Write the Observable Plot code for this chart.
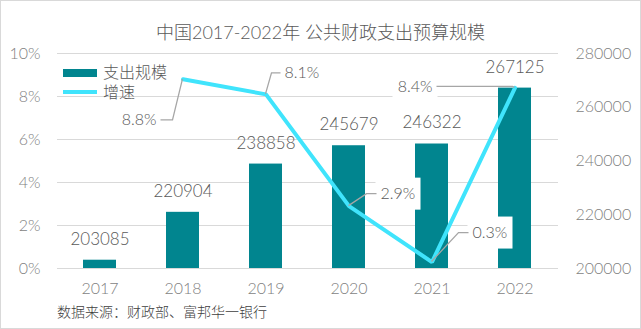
<!DOCTYPE html>
<html><head><meta charset="utf-8">
<script src="https://cdn.jsdelivr.net/npm/d3@7"></script>
<script src="https://cdn.jsdelivr.net/npm/@observablehq/plot@0.6"></script>
<style>
html,body{margin:0;padding:0;background:#fff;}
#wrap{position:relative;width:641px;height:329px;overflow:hidden;font-family:Lato,"Noto Sans CJK SC",sans-serif;font-weight:300;background:#fff;}
#border{position:absolute;left:0;top:0;width:641px;height:329px;box-sizing:border-box;border:1.5px solid #d9d9d9;pointer-events:none;}
#title{position:absolute;left:0;width:641px;top:20px;text-align:center;font-size:18px;color:#595959;line-height:24px;}
#caption{position:absolute;left:57px;top:302px;font-size:14px;color:#404040;line-height:20px;}
#chart{position:absolute;left:0;top:0;}
.leg{position:absolute;font-size:16px;color:#595959;line-height:20px;}
.sw{position:absolute;}
</style>
</head><body>
<div id="wrap">
  <div id="chart"></div>
  <div id="title">中国2017-2022年 公共财政支出预算规模</div>
  <div class="sw" style="left:63px;top:69px;width:34px;height:8px;background:#01858f"></div>
  <div class="leg" style="left:103px;top:62px;">支出规模</div>
  <div class="sw" style="left:63px;top:90px;width:34px;height:4px;background:#40e4fc"></div>
  <div class="leg" style="left:103px;top:82px;">增速</div>
  <div id="caption">数据来源：财政部、富邦华一银行</div>
  <div id="border"></div>
</div>
<script>
// ---- data ----
const years = ["2017", "2018", "2019", "2020", "2021", "2022"];
const spending = [203085, 220904, 238858, 245679, 246322, 267125];
const growth = [null, 8.8, 8.1, 2.9, 0.3, 8.4];
const growthLabels = ["", "8.8%", "8.1%", "2.9%", "0.3%", "8.4%"];
const leftTicks = [0, 2, 4, 6, 8, 10];
const rightTicks = [200000, 220000, 240000, 260000, 280000];
const leftDomain = [0, 10];
const rightDomain = [200000, 280000];

const teal = "#01858f";
const cyan = "#40e4fc";
const textGray = "#595959";
const tickGray = "#7f7f7f";
const fontStack = "Lato, 'Noto Sans CJK SC', sans-serif";

// right-axis value -> left-axis (percent) coordinate
const toLeft = v => leftDomain[0] + (v - rightDomain[0]) / (rightDomain[1] - rightDomain[0]) * (leftDomain[1] - leftDomain[0]);
const fromLeft = t => rightDomain[0] + (t - leftDomain[0]) / (leftDomain[1] - leftDomain[0]) * (rightDomain[1] - rightDomain[0]);

const rows = years.map((y, i) => ({year: y, spending: spending[i], yv: toLeft(spending[i]), growth: growth[i], label: growthLabels[i]}));
const growthRows = rows.filter(d => d.growth != null);

// label placement offsets (pixels relative to each point): elbow, end of leader, text anchor
const labelLayout = {
  "2018": {ex: -10, ey: 41, hx: -22, anchor: "end"},
  "2019": {ex: 6, ey: -21, hx: 15, anchor: "start"},
  "2020": {ex: 18, ey: -12, hx: 28, anchor: "start"},
  "2021": {ex: 27, ey: -29, hx: 37, anchor: "start"},
  "2022": {ex: -2, ey: -1, hx: -78, anchor: "end"}
};

function growthLabelMark(index, scales, values, dimensions) {
  const x = scales.x, y = scales.y;
  const bw = x.bandwidth ? x.bandwidth() : 0;
  const g = d3.create("svg:g");
  for (const d of growthRows) {
    const L = labelLayout[d.year];
    const px = x(d.year) + bw / 2, py = y(d.growth);
    const ly = py + L.ey;
    const tx = L.anchor === "start" ? px + L.hx + 4 : px + L.hx - 4;
    const w = 36;
    const bx = L.anchor === "start" ? tx - 5 : tx - w - 4;
    g.append("rect").attr("x", bx).attr("y", ly - 16).attr("width", w + 9).attr("height", 32).attr("fill", "#fff");
    g.append("path")
      .attr("d", `M${px},${py}L${px + L.ex},${ly}L${px + L.hx},${ly}`)
      .attr("fill", "none").attr("stroke", "#a6a6a6").attr("stroke-width", 1.3);
    g.append("text").attr("x", tx).attr("y", ly).attr("dy", "0.35em")
      .attr("text-anchor", L.anchor).attr("fill", textGray)
      .attr("font-size", 16).attr("font-family", fontStack).attr("font-weight", 300)
      .text(d.label);
  }
  return g.node();
}

const plot = Plot.plot({
  width: 641,
  height: 329,
  marginTop: 53,
  marginBottom: 61,
  marginLeft: 57,
  marginRight: 83,
  style: {fontFamily: fontStack, fontWeight: 300, background: "transparent", overflow: "visible"},
  x: {domain: years, paddingInner: 0.6, paddingOuter: 0.3},
  y: {domain: leftDomain},
  marks: [
    Plot.gridY(leftTicks, {stroke: "#d9d9d9", strokeOpacity: 1, strokeWidth: 1}),
    Plot.barY(rows, {x: "year", y1: leftDomain[0], y2: "yv", fill: teal}),
    Plot.text(rows, {x: "year", y: "yv", text: d => String(d.spending), dy: -21, fontSize: 17, fontWeight: 300, fill: textGray}),
    Plot.line(growthRows, {x: "year", y: "growth", stroke: cyan, strokeWidth: 4, strokeLinejoin: "miter"}),
    growthLabelMark,
    Plot.axisY(leftTicks, {anchor: "left", tickSize: 0, tickPadding: 17, tickFormat: d => d + "%", fontSize: 16, fontWeight: 300, color: tickGray, label: null}),
    Plot.axisY(rightTicks.map(toLeft), {anchor: "right", tickSize: 0, tickPadding: 17, tickFormat: t => String(Math.round(fromLeft(t))), fontSize: 16, fontWeight: 300, color: tickGray, label: null}),
    Plot.axisX({anchor: "bottom", tickSize: 0, tickPadding: 14, fontSize: 16, fontWeight: 300, color: tickGray, label: null})
  ]
});
document.getElementById("chart").appendChild(plot);
</script>
</body></html>
